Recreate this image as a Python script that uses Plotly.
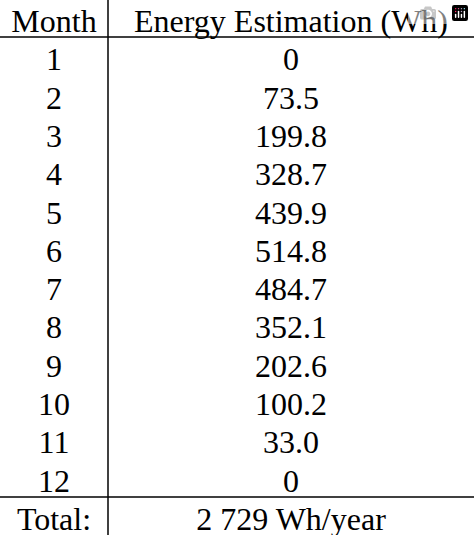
import plotly.graph_objects as go

header = ["Month", "Energy Estimation (Wh)"]
months = ["1","2","3","4","5","6","7","8","9","10","11","12","Total:"]
energy = ["0","73.5","199.8","328.7","439.9","514.8","484.7","352.1","202.6","100.2","33.0","0","2 729 Wh/year"]

W, H = 474, 535
row_h = 38.3
font = dict(family="Liberation Serif, DejaVu Serif, serif", size=32, color="black")

fig = go.Figure(go.Table(
    columnwidth=[108, 366],
    header=dict(values=header, height=row_h, align="center", font=font,
                fill_color="white", line=dict(color="white", width=0)),
    cells=dict(values=[months, energy], height=row_h, align="center", font=font,
               fill_color="white", line=dict(color="white", width=0)),
))

xs = 108 / W
shapes = [
    dict(type="line", xref="paper", yref="paper", x0=xs, x1=xs, y0=0, y1=1,
         line=dict(color="black", width=1.5)),
    dict(type="line", xref="paper", yref="paper", x0=0, x1=1,
         y0=1 - 37 / H, y1=1 - 37 / H, line=dict(color="black", width=1.5)),
    dict(type="line", xref="paper", yref="paper", x0=0, x1=1,
         y0=1 - 497 / H, y1=1 - 497 / H, line=dict(color="black", width=1.5)),
]
fig.update_layout(width=W, height=H, margin=dict(l=0, r=0, t=0, b=0),
                  paper_bgcolor="white", shapes=shapes)
fig.write_html("out.html",
               post_script="document.body.style.margin='0';document.body.style.overflow='hidden';")
